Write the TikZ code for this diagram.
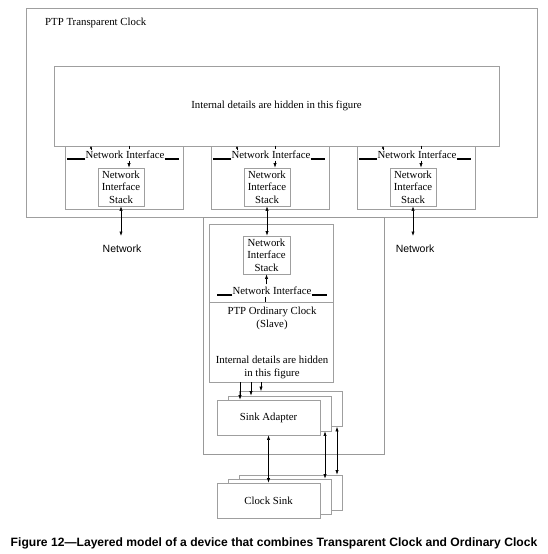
\documentclass[tikz,border=0pt]{standalone}
\usepackage{fontspec}
\setmainfont{Liberation Serif}
\newfontfamily\arialfont{Liberation Sans}
\usetikzlibrary{arrows.meta}
\begin{document}
\begin{tikzpicture}[x=1pt,y=-1pt,
  bx/.style={draw=gray!75, line width=0.7pt, fill=white, inner sep=0pt},
  txt/.style={inner sep=0pt, font=\fontsize{10.8}{13}\selectfont, align=center},
  stackbox/.style={bx, minimum width=46pt, minimum height=38pt, align=center, font=\fontsize{10.8}{12.5}\selectfont},
  netlbl/.style={inner sep=0pt, font=\arialfont\fontsize{10.5}{12}\selectfont},
  thk/.style={line width=1.6pt, black},
  arr/.style={line width=0.6pt, -{Latex[length=4.5pt,width=3.2pt]}},
  darr/.style={line width=0.6pt, {Latex[length=4.5pt,width=3.2pt]}-{Latex[length=4.5pt,width=3.2pt]}},
  stub/.style={line width=0.6pt}
]
\useasboundingbox (0,0) rectangle (548,554);
\fill[white] (0,0) rectangle (548,554);

% Transparent clock
\node[bx, minimum width=511pt, minimum height=209pt] (tc) at (281.5,112.5) {};
\node[txt, anchor=west] (tclabel) at (45,23) {PTP Transparent Clock};

% network interface boxes
\node[bx, minimum width=118pt, minimum height=63pt] (ni1) at (124,177.5) {};
\node[bx, minimum width=118pt, minimum height=63pt] (ni2) at (270,177.5) {};
\node[bx, minimum width=118pt, minimum height=63pt] (ni3) at (416,177.5) {};

\node[bx, minimum width=445pt, minimum height=80pt, font=\fontsize{10.8}{13}\selectfont] (int) at (276.5,106) {Internal details are hidden in this figure};

\foreach \i/\cx/\sx in {1/124/121, 2/270/267, 3/416/413}{
  \node[txt] (nil\i) at (\cx+1,155) {Network Interface};
  \draw[thk] (nil\i.base west) -- ++(-18,0);
  \draw[thk] (nil\i.base east) -- ++(14,0);
  \node[stackbox] (st\i) at (\sx,187) {Network\\Interface\\Stack};
  \draw[line width=0.6pt, -{Latex[length=3pt,width=2.5pt]}] ([xshift=-33pt,yshift=-4pt]ni\i.north) -- ([xshift=-33pt]ni\i.north);
  \draw[stub] ([xshift=5pt]ni\i.north) -- ([xshift=5pt,yshift=-3pt]ni\i.north);
  \draw[arr] ([xshift=8pt,yshift=7pt]st\i.north) -- ([xshift=8pt]st\i.north);
}

% Network labels
\node[netlbl] (net1) at (122,249) {Network};
\node[netlbl] (net3) at (415,249) {Network};
\coordinate (n1top) at (121,236);
\coordinate (n3top) at (413,236);
\draw[darr] (st1.south) -- (n1top);
\draw[darr] (st3.south) -- (n3top);

% Ordinary clock region
\node[draw=gray!80, line width=0.7pt, inner sep=0pt, minimum width=181pt, minimum height=237pt] (ocreg) at (293.5,335.5) {};
\node[bx, minimum width=124pt, minimum height=158pt] (oc) at (271,303) {};
\coordinate (divL) at (209,302);
\coordinate (divR) at (333,302);
\draw[draw=gray!75, line width=0.7pt] (divL) -- (divR);

\node[stackbox, minimum width=47pt] (ost) at (266.5,255) {Network\\Interface\\Stack};
\draw[darr] (st2.south) -- (st2.south |- ost.north);

\node[txt] (onil) at (272,291) {Network Interface};
\draw[thk] (onil.base west) -- ++(-15,0);
\draw[thk] (onil.base east) -- ++(15,0);
\draw[arr] ([yshift=-10pt]ost.south) -- (ost.south);
\draw[stub] ([xshift=-5.5pt]oc.north |- divL) -- ++(0,-5);

\node[txt] (ocname) at (272,318) {PTP Ordinary Clock\\(Slave)};
\node[txt] (ochid) at (272,367.5) {Internal details are hidden\\in this figure};

% Sink adapters
\node[bx, minimum width=103pt, minimum height=35pt] (sa3) at (290.5,409) {};
\node[bx, minimum width=103pt, minimum height=35pt] (sa2) at (279.5,413.5) {};
\node[bx, minimum width=103pt, minimum height=35pt, font=\fontsize{10.8}{13}\selectfont] (sa1) at (268.5,417.5) {Sink Adapter};

\draw[arr] ([xshift=-31pt]oc.south) -- ([xshift=-28.5pt]sa1.north);
\draw[arr] ([xshift=-20pt]oc.south) -- ([xshift=-28.5pt]sa2.north);
\draw[arr] ([xshift=-10pt]oc.south) -- ([xshift=-29.5pt]sa3.north);

% Clock sinks
\node[bx, minimum width=103pt, minimum height=35pt] (cs3) at (290.5,492.5) {};
\node[bx, minimum width=103pt, minimum height=35pt] (cs2) at (279.5,496.5) {};
\node[bx, minimum width=103pt, minimum height=35pt, font=\fontsize{10.8}{13}\selectfont] (cs1) at (268.5,500.5) {Clock Sink};

\draw[darr] (sa1.south) -- (cs1.north);
\draw[darr] ([xshift=45.5pt]sa2.south) -- ([xshift=45.5pt]cs2.north);
\draw[darr] ([xshift=46.5pt]sa3.south) -- ([xshift=46.5pt]cs3.north);

% Caption
\node[inner sep=0pt, font=\arialfont\bfseries\fontsize{12.1}{14}\selectfont] (cap) at (274,543) {Figure 12—Layered model of a device that combines Transparent Clock and Ordinary Clock};
\end{tikzpicture}
\end{document}
